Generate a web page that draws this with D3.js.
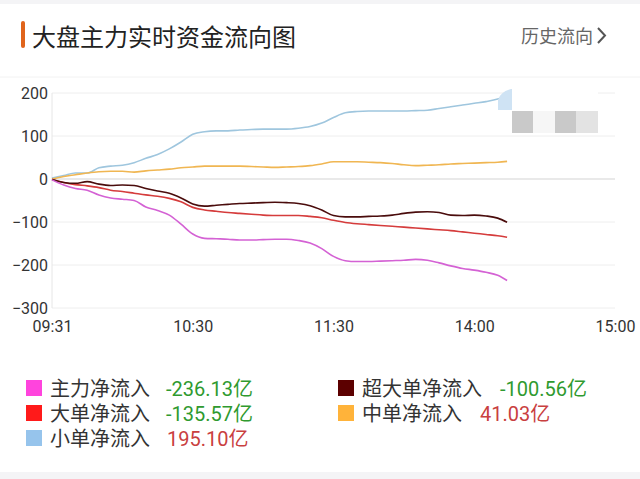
<!DOCTYPE html>
<html>
<head>
<meta charset="utf-8">
<script src="https://cdn.jsdelivr.net/npm/d3@7"></script>
<style>
  body { margin: 0; background: #fff; font-family: "Noto Sans CJK SC", Roboto, sans-serif; }
</style>
</head>
<body>
<div id="chart"></div>
<script>
// minute index since 09:30 (lunch break removed)
const minutes = [0, 5, 10, 15, 20, 25, 30, 35, 40, 45, 50, 55, 60, 65, 70, 75, 80, 85, 90, 95,
  100, 105, 110, 115, 120, 125, 130, 135, 140, 145, 150, 155, 160, 165, 170, 175, 180, 185, 190, 194];

const zhuli = [-2, -14, -22, -26, -37, -44, -47, -50, -65, -73, -84, -105, -128, -138, -139, -140, -142, -142, -141, -140,
  -140, -143, -149, -162, -180, -190, -192, -192, -191, -190, -189, -187, -189, -195, -202, -208, -212, -217, -224, -236.13];
const chaoda = [-1, -8, -10, -6, -12, -15, -14, -15, -22, -28, -33, -44, -58, -63, -61, -59, -57, -56, -55, -54,
  -55, -57, -62, -72, -85, -88, -88, -87, -86, -84, -80, -77, -76, -78, -84, -85, -84, -86, -91, -100.56];
const dadan = [-1, -8, -13, -16, -20, -26, -29, -33, -37, -40, -45, -53, -66, -72, -75, -78, -80, -82, -84, -85,
  -85, -85, -87, -90, -96, -101, -104, -106, -108, -110, -112, -114, -116, -118, -120, -123, -126, -129, -132, -135.57];
const zhongdan = [0, 6, 10, 14, 17, 18, 18, 16, 19, 21, 23, 26, 28, 30, 30, 30, 30, 29, 28, 27,
  28, 29, 31, 35, 40, 40, 40, 39, 38, 36, 33, 31, 32, 33, 35, 36, 37, 38, 39, 41.03];
const xiaodan = [2, 8, 14, 14, 26, 30, 32, 38, 48, 57, 70, 86, 104, 110, 112, 112, 114, 115, 116, 116,
  116, 118, 122, 130, 143, 154, 157, 158, 158, 158, 158, 159, 160, 164, 168, 172, 176, 180, 186, 195.10];

const yTicks = [200, 100, 0, -100, -200, -300];
const xTicks = [0, 60, 120, 180, 240];
const xLabels = ["09:31", "10:30", "11:30", "14:00", "15:00"];

const legendNames = ["主力净流入", "超大单净流入", "大单净流入", "中单净流入", "小单净流入"];
const legendValues = ["-236.13亿", "-100.56亿", "-135.57亿", "41.03亿", "195.10亿"];

const series = [
  { values: xiaodan, line: "#9fc6de" },
  { values: zhongdan, line: "#f0b652" },
  { values: dadan, line: "#d53c3c" },
  { values: chaoda, line: "#4a0c0c" },
  { values: zhuli, line: "#d462d4" }
];
const legendColors = ["#ff44dd", "#5c0000", "#ff1a1a", "#ffb33a", "#96c4ec"];

const W = 640, H = 479;
const svg = d3.select("#chart").append("svg")
  .attr("width", W)
  .attr("height", H);

svg.append("rect").attr("width", W).attr("height", H).attr("fill", "#fff");
svg.append("rect").attr("width", W).attr("height", 4).attr("fill", "#f4f4f6");
svg.append("rect").attr("y", 472).attr("width", W).attr("height", 7).attr("fill", "#f4f4f6");

// header
svg.append("rect")
  .attr("x", 21).attr("y", 21).attr("width", 4).attr("height", 27).attr("rx", 2)
  .attr("fill", "#e0641c");
svg.append("text")
  .attr("x", 32).attr("y", 46)
  .attr("font-size", 24)
  .attr("fill", "#222")
  .text("大盘主力实时资金流向图");
svg.append("text")
  .attr("x", 521).attr("y", 43)
  .attr("font-size", 18)
  .attr("fill", "#666")
  .text("历史流向");
svg.append("path")
  .attr("d", "M598,28 L605,35.5 L598,43")
  .attr("fill", "none")
  .attr("stroke", "#555")
  .attr("stroke-width", 2);
svg.append("line")
  .attr("x1", 0).attr("x2", W).attr("y1", 77).attr("y2", 77)
  .attr("stroke", "#f2f2f2");

// chart
const x = d3.scaleLinear().domain([0, 240]).range([52, 615]);
const y = d3.scaleLinear().domain([-300, 200]).range([308, 93]);

const grid = svg.append("g");
grid.selectAll("line")
  .data(yTicks)
  .enter()
  .append("line")
  .attr("x1", 52).attr("x2", 615)
  .attr("y1", d => y(d)).attr("y2", d => y(d))
  .attr("stroke", d => d === 0 ? "#e2e2e2" : "#eeeeee")
  .attr("stroke-width", d => d === 0 ? 1.6 : 1);

svg.append("line")
  .attr("x1", 52).attr("x2", 52).attr("y1", y(200)).attr("y2", y(-300))
  .attr("stroke", "#e6e6e6");

const yAxis = svg.append("g")
  .attr("transform", "translate(52,0)")
  .call(d3.axisLeft(y).tickValues(yTicks).tickSize(0).tickPadding(4));
yAxis.select(".domain").remove();
yAxis.selectAll("text")
  .attr("font-family", "Roboto, sans-serif")
  .attr("font-size", 16)
  .attr("fill", "#333");

const xAxis = svg.append("g")
  .attr("transform", "translate(0,308)")
  .call(d3.axisBottom(x).tickValues(xTicks).tickFormat((d, i) => xLabels[i]).tickSize(0).tickPadding(13));
xAxis.select(".domain").remove();
xAxis.selectAll("text")
  .attr("font-family", "Roboto, sans-serif")
  .attr("font-size", 16)
  .attr("fill", "#333");

const line = d3.line()
  .x((d, i) => x(minutes[i]))
  .y(d => y(d))
  .curve(d3.curveMonotoneX);

svg.selectAll(".series")
  .data(series)
  .enter()
  .append("path")
  .attr("class", "series")
  .attr("d", d => line(d.values))
  .attr("fill", "none")
  .attr("stroke", d => d.line)
  .attr("stroke-width", 1.6);

// pixelated patch over the top right corner
const mosaic = svg.append("g");
mosaic.append("rect").attr("x", 512).attr("y", 86).attr("width", 86).attr("height", 26).attr("fill", "#fff");
mosaic.append("path")
  .attr("d", "M498,110 L498,100 Q500,92 511,89 L512,89 L512,110 Z")
  .attr("fill", "#cfe3f4");
[["#c9c9c9", 512], ["#f6f6f6", 533], ["#c9c9c9", 555], ["#e3e3e3", 576]].forEach(([c, x0]) => {
  mosaic.append("rect")
    .attr("x", x0).attr("y", 111).attr("width", 22).attr("height", 22)
    .attr("fill", c);
});

// legend
const legendPos = [[26, 388], [338, 388], [26, 413], [338, 413], [26, 438]];
const valueX = [166, 500, 166, 480, 167];
const legend = svg.append("g");
legendNames.forEach((name, i) => {
  const [lx, ly] = legendPos[i];
  const g = legend.append("g");
  g.append("rect")
    .attr("x", lx).attr("y", ly - 8).attr("width", 16).attr("height", 16)
    .attr("fill", legendColors[i]);
  g.append("text")
    .attr("x", lx + 24).attr("y", ly + 8)
    .attr("font-size", 20)
    .attr("fill", "#333")
    .text(name);
  g.append("text")
    .attr("x", valueX[i]).attr("y", ly + 8)
    .attr("font-size", 20)
    .attr("font-family", "Roboto, 'Noto Sans CJK SC', sans-serif")
    .attr("fill", legendValues[i].startsWith("-") ? "#2f9a2f" : "#c9403f")
    .text(legendValues[i]);
});
</script>
</body>
</html>
